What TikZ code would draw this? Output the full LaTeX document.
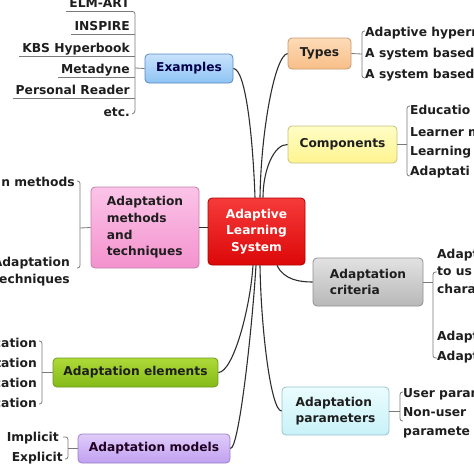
\documentclass[tikz,border=0pt]{standalone}
\usepackage{fontspec}
\setmainfont{DejaVu Sans}
\usepackage{tikz}
\usetikzlibrary{positioning}
\usepackage{xcolor}
\definecolor{txt}{HTML}{1E1E1E}
\definecolor{wire}{HTML}{2E2E2E}
\definecolor{brk}{HTML}{7A7A7A}
\definecolor{exmtop}{HTML}{C8E2FC}\definecolor{exmbot}{HTML}{8EC4F4}\definecolor{exmln}{HTML}{5A88C0}
\definecolor{typtop}{HTML}{FDDCB8}\definecolor{typbot}{HTML}{F8BE88}\definecolor{typln}{HTML}{C89A70}
\definecolor{cmptop}{HTML}{FFFDC4}\definecolor{cmpbot}{HTML}{FFF490}\definecolor{cmpln}{HTML}{C8C080}
\definecolor{mthtop}{HTML}{FBC4E8}\definecolor{mthbot}{HTML}{F492CE}\definecolor{mthln}{HTML}{C080A8}
\definecolor{crttop}{HTML}{E2E2E2}\definecolor{crtbot}{HTML}{B8B8B8}\definecolor{crtln}{HTML}{909090}
\definecolor{elmtop}{HTML}{AEDA38}\definecolor{elmbot}{HTML}{84BA18}\definecolor{elmln}{HTML}{6A9A20}
\definecolor{mdltop}{HTML}{E0CCFA}\definecolor{mdlbot}{HTML}{C0A0F0}\definecolor{mdlln}{HTML}{9A80C8}
\definecolor{prmtop}{HTML}{EAFCFE}\definecolor{prmbot}{HTML}{C8F2F8}\definecolor{prmln}{HTML}{98C4CC}
\definecolor{hubtop}{HTML}{F63A3A}\definecolor{hubbot}{HTML}{DC0808}\definecolor{hubln}{HTML}{B00000}

\begin{document}
\begin{tikzpicture}[
  x=1pt, y=-1pt,
  font=\bfseries\fontsize{12.3}{14}\selectfont,
  topic/.style={draw, rounded corners=4pt, line width=0.8pt, inner sep=2pt,
                align=center, text=txt, font=\bfseries\fontsize{12.2}{16.7}\selectfont},
  hub/.style={topic, draw=hubln, top color=hubtop, bottom color=hubbot, text=white},
  item/.style={inner sep=0pt, text=txt, anchor=west, align=left},
  litem/.style={item, anchor=east, align=right},
  exitem/.style={inner xsep=3pt, inner ysep=0pt, text height=9pt, text depth=3.5pt,
                 anchor=east, text=txt},
  link/.style={draw=wire, line width=1.1pt},
  bracket/.style={draw=brk, line width=0.8pt, rounded corners=2.5pt}
]
\useasboundingbox (0,0) rectangle (474,474);
\clip (0,0) rectangle (474,474);

% central topic
\node[hub, minimum width=97pt, minimum height=67pt] (als) at (256.5,231.5)
  {Adaptive\\Learning\\System};

% main topics
\node[topic, minimum width=88pt, minimum height=29pt, draw=exmln, text=blue!30!black,
      top color=exmtop, bottom color=exmbot] (exm) at (189,68.5) {Examples};
\node[topic, minimum width=63pt, minimum height=31pt, draw=typln,
      top color=typtop, bottom color=typbot] (typ) at (319.5,53.5) {Types};
\node[topic, minimum width=109pt, minimum height=37pt, draw=cmpln,
      top color=cmptop, bottom color=cmpbot] (cmp) at (342.5,144.5) {Components};
\node[topic, minimum width=108pt, minimum height=81pt, align=left, draw=mthln,
      top color=mthtop, bottom color=mthbot] (mth) at (145,227.5)
  {Adaptation\\methods\\and\\techniques};
\node[topic, minimum width=110pt, minimum height=48pt, align=left, draw=crtln,
      top color=crttop, bottom color=crtbot] (crt) at (368,282) {Adaptation\\criteria};
\node[topic, minimum width=165pt, minimum height=29pt, draw=elmln,
      top color=elmtop, bottom color=elmbot] (elm) at (135.5,372.5) {Adaptation elements};
\node[topic, minimum width=152pt, minimum height=29pt, draw=mdlln, text=violet!25!black,
      top color=mdltop, bottom color=mdlbot] (mdl) at (154,448.5) {Adaptation models};
\node[topic, minimum width=107pt, minimum height=48pt, align=left, draw=prmln,
      top color=prmtop, bottom color=prmbot] (prm) at (335.5,411) {Adaptation\\parameters};

% examples
\node[exitem] (e1) at (133,5) {ELM-ART};
\node[exitem] (e2) at (133,28) {INSPIRE};
\node[exitem] (e3) at (133,50) {KBS Hyperbook};
\node[exitem] (e4) at (133,71) {Metadyne};
\node[exitem] (e5) at (133,92) {Personal Reader};
\node[exitem] (e6) at (133,114) {etc.};
\draw[bracket] (e1.south west) -- (135,14 |- e1.south) -- (135,113) -- (132,114);
\draw[brk, line width=0.8pt] (e2.south west) -- (135,14 |- e2.south);
\draw[brk, line width=0.8pt] (e3.south west) -- (135,14 |- e3.south);
\draw[brk, line width=0.8pt] (e4.south west) -- (135,14 |- e4.south);
\draw[brk, line width=0.8pt] (e5.south west) -- (135,14 |- e5.south);
\draw[brk, line width=0.8pt] (exm.west) -- (135,68);

% types
\node[item] (t1) at (365,33) {Adaptive hyperm};
\node[item] (t2) at (365,54) {A system based};
\node[item] (t3) at (365,75) {A system based};
\draw[bracket] (365,31) -- (362,31) -- (362,78) -- (365,78);
\draw[brk, line width=0.8pt] (typ.east) -- (362,54);

% components
\node[item] (c1) at (410,110) {Educatio};
\node[item] (c2) at (410,132) {Learner m};
\node[item] (c3) at (410,152) {Learning};
\node[item] (c4) at (410,172) {Adaptati};
\draw[bracket] (410,106) -- (407,106) -- (407,176) -- (410,176);
\draw[brk, line width=0.8pt] (cmp.east) -- (407,144.5);

% methods and techniques
\node[litem] (m1) at (75,182) {n methods};
\node[litem, font=\bfseries\fontsize{12.3}{17}\selectfont] (m2) at (70,271.5) {Adaptation\\echniques};
\draw[bracket] (77,181) -- (80,181) -- (80,268) -- (77,268);
\draw[brk, line width=0.8pt] (mth.west) -- (80,228);

% criteria
\node[item, font=\bfseries\fontsize{12.3}{17.5}\selectfont] (r1) at (437,271) {Adapt\\to us\\chara};
\node[item] (r2) at (437,337) {Adapt};
\node[item] (r3) at (437,357) {Adapt};
\draw[bracket] (437,272) -- (433,272) -- (433,358) -- (437,358);
\draw[brk, line width=0.8pt] (crt.east) -- (433,282);

% elements
\node[litem] (l1) at (37,343) {cation};
\node[litem] (l2) at (37,363) {tation};
\node[litem] (l3) at (37,383) {cation};
\node[litem] (l4) at (37,403) {cation};
\draw[bracket] (39,341) -- (42,341) -- (42,404) -- (39,404);
\draw[brk, line width=0.8pt] (elm.west) -- (42,372.5);

% models
\node[litem] (d1) at (59,438) {Implicit};
\node[litem] (d2) at (63,458) {Explicit};
\draw[bracket] (63,437) -- (68,437) -- (68,459) -- (65,459);
\draw[brk, line width=0.8pt] (mdl.west) -- (68,448.5);

% parameters
\node[item] (p1) at (403,394) {User param};
\node[item, font=\bfseries\fontsize{12.3}{19}\selectfont] (p2) at (403,422.5) {Non-user\\paramete};
\draw[bracket] (403,392) -- (400,392) -- (400,421) -- (403,421);
\draw[brk, line width=0.8pt] (prm.east) -- (400,411);

% links to the central topic
\draw[link] (exm.east) .. controls (246,69) and (253,140) .. (als.north -| 255,0);
\draw[link] (typ.west) .. controls (275,55) and (261,130) .. (als.north -| 260,0);
\draw[link] (cmp.west) .. controls (274,144) and (263,170) .. (als.north -| 263,0);
\draw[link] (mth.east) -- (als.west |- mth.east);
\draw[link] (als.south -| 277,0) .. controls (284,280) and (300,282) .. (crt.west);
\draw[link] (elm.east) .. controls (233,372) and (250,310) .. (als.south -| 253,0);
\draw[link] (mdl.east) .. controls (239,449) and (252,330) .. (als.south -| 256,0);
\draw[link] (prm.west) .. controls (271,411) and (261,330) .. (als.south -| 260,0);
\end{tikzpicture}
\end{document}
